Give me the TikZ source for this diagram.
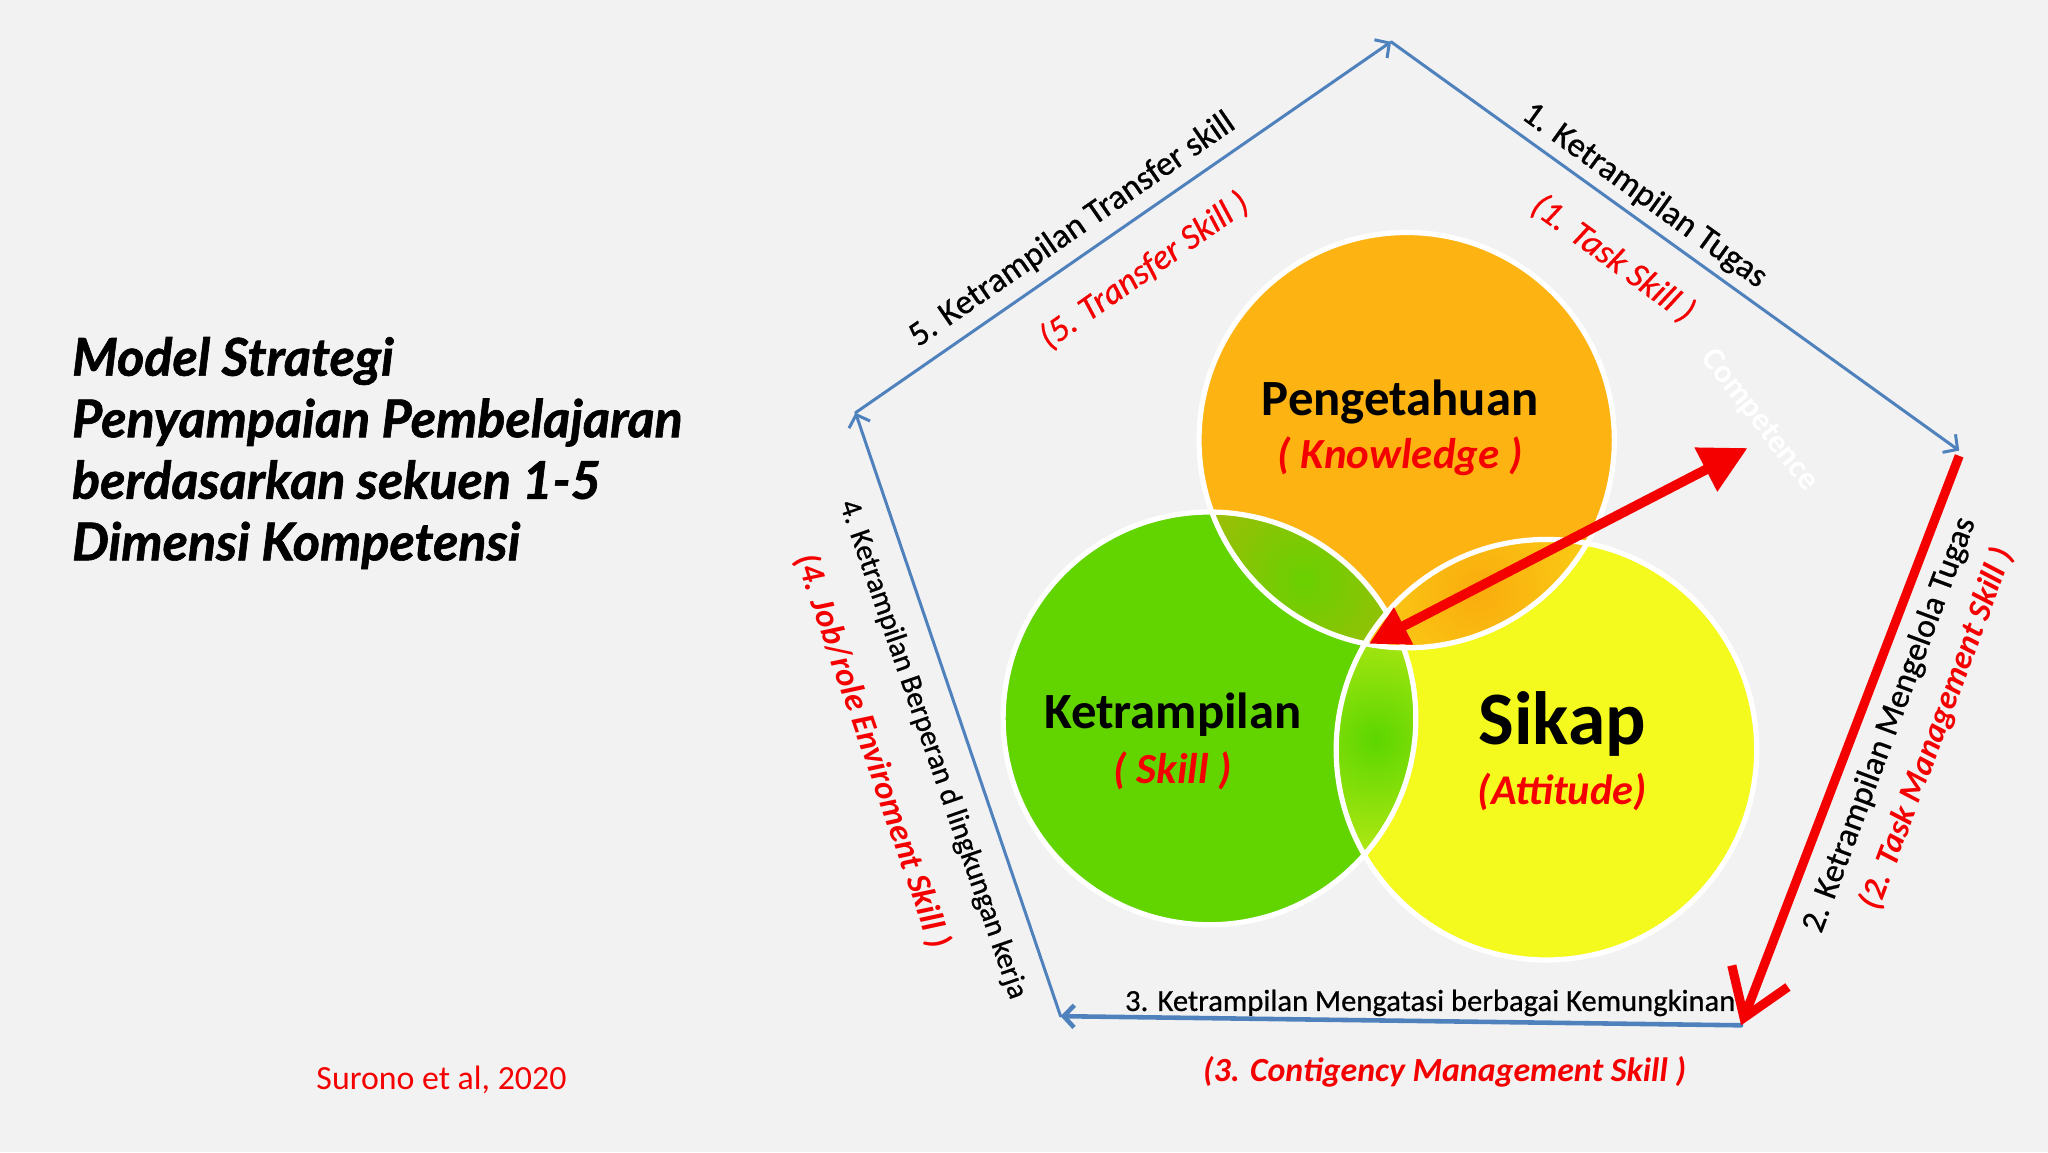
\documentclass[tikz,border=0pt]{standalone}
\usepackage{fontspec}
\setmainfont{Carlito}
\newfontfamily\medfont[FakeBold=0.7]{Carlito}
\newfontfamily\latofont[BoldItalicFeatures={FakeBold=1.2}]{Lato}
\usetikzlibrary{arrows.meta}
\definecolor{bgc}{RGB}{242,242,242}
\definecolor{edgeblue}{RGB}{79,129,189}
\definecolor{orangec}{RGB}{253,180,18}
\definecolor{greenc}{RGB}{98,212,0}
\definecolor{yellowc}{RGB}{245,250,30}
\definecolor{redc}{RGB}{245,0,0}
\tikzset{
  edgeline/.style={draw=edgeblue, line width=2.3bp, line cap=round, -{Straight Barb[length=8bp,width=17bp]}},
  blacklbl/.style={text=black, inner sep=0pt, font=\medfont\fontsize{#1}{#1}\selectfont},
  redlbl/.style={text=redc, inner sep=0pt, font=\bfseries\itshape\fontsize{#1}{#1}\selectfont},
  redlblit/.style={text=redc, inner sep=0pt, font=\medfont\itshape\fontsize{#1}{#1}\selectfont},
  circtitle/.style={text=black, inner sep=0pt, font=\bfseries\fontsize{#1}{#1}\selectfont},
  circsub/.style={text=redc, inner sep=0pt, font=\bfseries\itshape\fontsize{#1}{#1}\selectfont},
}
\begin{document}
\begin{tikzpicture}[x=1bp,y=-1bp]
\fill[bgc] (0,0) rectangle (1568,882);
\useasboundingbox (0,0) rectangle (1568,882);

% circle centres
\coordinate (cO) at (1077,337);
\coordinate (cG) at (926,550);
\coordinate (cY) at (1184,574);

\fill[orangec] (cO) circle[radius=159];
\fill[greenc] (cG) circle[radius=158];
\fill[yellowc] (cY) circle[radius=161];
% lenses
\begin{scope}
  \clip (cO) circle[radius=159];
  \clip (cG) circle[radius=158];
  \shade[inner color={rgb,255:red,105;green,208;blue,0}, outer color={rgb,255:red,190;green,178;blue,12}] (998,444) circle[radius=140];
\end{scope}
\begin{scope}
  \clip (cG) circle[radius=158];
  \clip (cY) circle[radius=161];
  \shade[inner color={rgb,255:red,92;green,214;blue,0}, outer color={rgb,255:red,226;green,242;blue,30}] (1053,566) circle[radius=140];
\end{scope}
\begin{scope}
  \clip (cO) circle[radius=159];
  \clip (cY) circle[radius=161];
  \shade[inner color={rgb,255:red,250;green,172;blue,14}, outer color={rgb,255:red,250;green,222;blue,24}] (1132,452) circle[radius=140];
\end{scope}
\draw[white, line width=4bp] (cO) circle[radius=159] (cG) circle[radius=158] (cY) circle[radius=161];

% circle texts
\node[circtitle=39, anchor=base] (peng) at (1072,318) {Pengetahuan};
\node[circsub=33, anchor=base] (know) at (1072,359) {( Knowledge )};
\node[circtitle=39, anchor=base] (ketr) at (898,558) {Ketrampilan};
\node[circsub=33, anchor=base] (skil) at (898,600) {( Skill )};
\node[circtitle=58, anchor=base] (sikap) at (1196,570) {Sikap};
\node[circsub=32.5, anchor=base] (atti) at (1196,616) {(Attitude)};

% competence
\node[text=white, inner sep=0pt, rotate=-52, font=\bfseries\fontsize{25}{25}\selectfont] (comp) at (1347,322) {Competence};

% pentagon
\coordinate (T) at (1065,32);
\coordinate (R) at (1500,345);
\coordinate (BR) at (1333,785);
\coordinate (BL) at (812,778);
\coordinate (L) at (655,316);
\coordinate (Rs) at (1500,349);
\draw[edgeline] (T) -- (R);
\draw[edgeline] (L) -- (T);
\draw[edgeline] (BL) -- (L);
\draw[edgeline, line width=3.5bp] (BR) -- (BL);
\draw[draw=redc, line width=7bp, -{Straight Barb[length=34bp,width=46bp,line width=7bp]}] (Rs) -- (BR);

% red double arrow
\coordinate (dA) at (1048,493);
\coordinate (dB) at (1338,343);
\draw[draw=redc, line width=7.5bp, {Triangle[length=30bp,width=30bp]}-{Triangle[length=36bp,width=36bp]}] (dA) -- (dB);

% edge labels
\node[blacklbl=26.5, rotate=-35.7] (l1) at (1259,150) {1. Ketrampilan Tugas};
\node[redlblit=27, rotate=-36] (r1) at (1235,198) {(1. Task Skill )};
\node[blacklbl=26.5, rotate=34.6] (l5) at (821,176) {5. Ketrampilan Transfer skill};
\node[redlblit=27, rotate=35] (r5) at (876,207) {(5. Transfer Skill )};
\node[blacklbl=23, rotate=-71] (l4) at (714,574) {4. Ketrampilan Berperan d lingkungan kerja};
\node[redlbl=26, rotate=-71] (r4) at (668,575) {(4. Job/role Enviroment Skill )};
\node[blacklbl=23.5, anchor=base] (l3) at (1095,774) {3. Ketrampilan Mengatasi berbagai Kemungkinan};
\node[redlbl=26, anchor=base] (r3) at (1106,828) {(3. Contigency Management Skill )};
\node[blacklbl=26, rotate=69.5] (l2) at (1447,555) {2. Ketrampilan Mengelola Tugas};
\node[redlbl=25.5, rotate=69.5] (r2) at (1483,558) {(2. Task Management Skill )};

% title
\node[anchor=base west, align=left, inner sep=0pt, text=black,
      font=\latofont\bfseries\itshape\fontsize{40}{47.3}\selectfont] (title) at (55,429)
  {Model Strategi\\Penyampaian Pembelajaran\\berdasarkan sekuen 1-5\\Dimensi Kompetensi};
\node[anchor=base, inner sep=0pt, text=redc, font=\fontsize{26}{26}\selectfont] (cite) at (338,834) {Surono et al, 2020};
\end{tikzpicture}
\end{document}
